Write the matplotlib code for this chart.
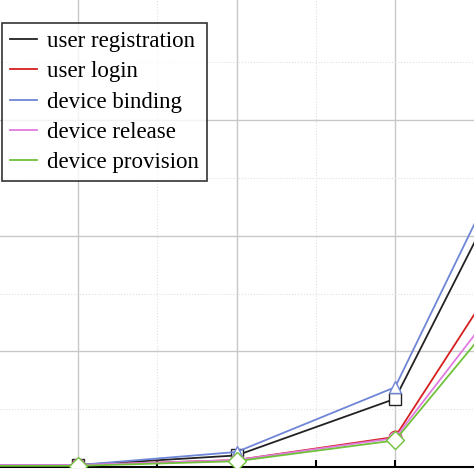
import matplotlib
matplotlib.use("Agg")
import matplotlib.pyplot as plt

x = [0.5, 1, 2, 3, 3.5]
names = ["user registration", "user login", "device binding", "device release", "device provision"]
colors = ["#222222", "#d62020", "#6f86d6", "#e07be0", "#6fc23a"]
markers = ["s", "o", "^", "o", "D"]
series = [
    [0.017, 0.017, 0.10, 0.59, 1.94],
    [0.017, 0.017, 0.06, 0.26, 1.32],
    [0.017, 0.017, 0.13, 0.69, 2.10],
    [0.017, 0.017, 0.06, 0.25, 1.14],
    [0.01, 0.01, 0.05, 0.23, 1.06],
]

plt.rcParams["font.family"] = "Liberation Serif"
fig = plt.figure(figsize=(4.74, 4.74), dpi=100)
ax = fig.add_axes([0, 7 / 474, 1, 467 / 474])
for ys, c, m, n in zip(series, colors, markers, names):
    ax.plot(x, ys, color=c, lw=1.3, label=n, marker=m, markevery=[1, 2, 3],
            mfc="white", mec=c, ms=9, zorder=3)
ax.set_xlim(0.508, 3.498)
ax.set_ylim(0, 4.04)
ax.set_xticks([1, 2, 3])
ax.set_xticks([1.5, 2.5], minor=True)
ax.set_yticks([1, 2, 3])
ax.set_yticks([0.5, 1.5, 2.5, 3.5], minor=True)
ax.grid(True, which="major", color="#c8c8c8", lw=1)
ax.grid(True, which="minor", color="#e0e0e0", lw=0.8, ls=":")
ax.tick_params(axis="x", which="both", direction="in", labelbottom=False, length=5, width=1.5)
ax.tick_params(axis="y", which="both", left=False, labelleft=False)
for s in ["top", "right", "left"]:
    ax.spines[s].set_visible(False)
ax.spines["bottom"].set_linewidth(1.5)
leg = ax.legend(loc="upper left", bbox_to_anchor=(-0.02, 0.975), fontsize=16.5, frameon=True,
                fancybox=False, edgecolor="black", handlelength=1.2, handletextpad=0.4,
                labelspacing=0.4, borderpad=0.35)
leg.get_frame().set_linewidth(1.2)
for h in leg.legend_handles:
    h.set_marker("")
fig.savefig("out.png", dpi=100)
